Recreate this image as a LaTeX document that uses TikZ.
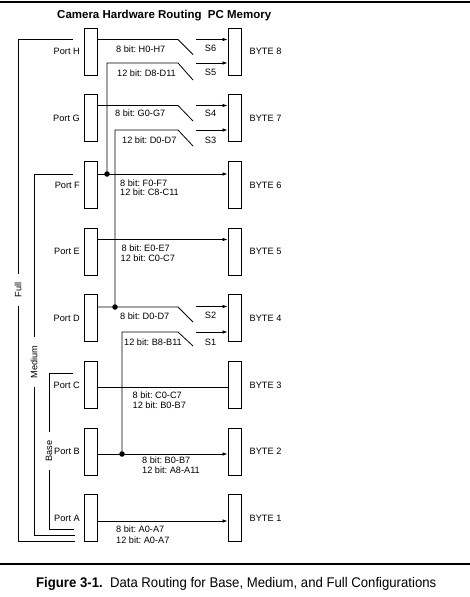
\documentclass[tikz,border=0pt]{standalone}
\usepackage{fontspec}
\setmainfont{Liberation Sans}
\usetikzlibrary{arrows.meta}
\frenchspacing
\begin{document}
\begin{tikzpicture}[x=1pt,y=-1pt,
  box/.style={draw,line width=1pt,minimum width=13pt,minimum height=47pt,inner sep=0pt},
  wire/.style={line width=0.8pt},
  arr/.style={wire,-{Latex[length=5pt,width=3.6pt]}},
  lbl/.style={font=\fontsize{9.2}{10}\selectfont,inner sep=0pt},
  wl/.style={lbl,anchor=west},
  dot/.style={circle,fill,inner sep=0pt,minimum size=5.5pt},
  grp/.style={lbl,rotate=90,inner xsep=8pt,font=\fontsize{9.2}{10}\selectfont}]
\useasboundingbox (0,0) rectangle (470,597);
\draw[line width=1.2pt] (0,2) -- (470,2);
\draw[line width=1.2pt] (0,564) -- (470,564);
\node[font=\bfseries\fontsize{11.5}{13}\selectfont,anchor=west,inner sep=0pt] (title) at (57,16) {Camera Hardware Routing\ \ PC Memory};
% port boxes
\foreach \n/\t/\y in {pH/H/51.5,pG/G/118.2,pF/F/184.9,pE/E/251.6,pD/D/318.3,pC/C/385,pB/B/451.7,pA/A/518.4}{
  \node[box] (\n) at (90.5,\y) {};
  \node[lbl,anchor=east] (\n l) at ([xshift=-3.5pt]\n.west) {Port \t};
}
\foreach \n/\t/\y in {b8/8/51.5,b7/7/118.2,b6/6/184.9,b5/5/251.6,b4/4/318.3,b3/3/385,b2/2/451.7,b1/1/518.4}{
  \node[box] (\n) at (234.5,\y) {};
  \node[lbl,anchor=west] (\n l) at ([xshift=8pt]\n.east) {BYTE \t};
}
% junction coordinates
\coordinate (jF) at (107,174);
\coordinate (jD) at (115,307);
\coordinate (jB) at (122,454);
% Port H / BYTE 8
\draw[wire] (pH.east |- 0,39.5) -- (178,39.5) -- (193,54.5);
\node[wl] at (116,49) {8 bit: H0-H7};
\draw[wire] (jF) -- (107,63) -- (178,63) -- (193,80);
\node[wl] at (117,73) {12 bit: D8-D11};
\draw[arr] (196,39.5) -- (b8.west |- 0,39.5);
\draw[arr] (196,63) -- (b8.west |- 0,63);
\node[lbl] at (210.5,48) {S6};
\node[lbl] at (210.5,72) {S5};
% Port G / BYTE 7
\draw[wire] (pG.east |- 0,105.5) -- (178,105.5) -- (193,121);
\node[wl] at (115,113) {8 bit: G0-G7};
\draw[wire] (jD) -- (115,130) -- (178,130) -- (193,146);
\node[wl] at (122,140) {12 bit: D0-D7};
\draw[arr] (196,105.5) -- (b7.west |- 0,105.5);
\draw[arr] (196,130) -- (b7.west |- 0,130);
\node[lbl] at (210.5,113) {S4};
\node[lbl] at (210.5,140) {S3};
% Port F
\draw[arr] (pF.east |- jF) -- (b6.west |- jF);
\node[dot] at (jF) {};
\node[wl] at (120,183) {8 bit: F0-F7};
\node[wl] at (120,192.5) {12 bit: C8-C11};
% Port E
\draw[arr] (pE.east |- 0,239.5) -- (b5.west |- 0,239.5);
\node[wl] at (121.5,248) {8 bit: E0-E7};
\node[wl] at (120.5,258.5) {12 bit: C0-C7};
% Port D / BYTE 4
\draw[wire] (pD.east |- jD) -- (178,307) -- (193,322);
\node[dot] at (jD) {};
\node[wl] at (120,316) {8 bit: D0-D7};
\draw[wire] (jB) -- (122,332) -- (178,332) -- (193,346);
\node[wl] at (124,342) {12 bit: B8-B11};
\draw[arr] (196,306.5) -- (b4.west |- 0,306.5);
\draw[arr] (196,332) -- (b4.west |- 0,332);
\node[lbl] at (210.5,315) {S2};
\node[lbl] at (210.5,342) {S1};
% Port C
\draw[wire] (pC.east |- 0,387) -- (b3.west |- 0,387);
\node[wl] at (132.5,395) {8 bit: C0-C7};
\node[wl] at (132.5,405) {12 bit: B0-B7};
% Port B
\draw[arr] (pB.east |- jB) -- (b2.west |- jB);
\node[dot] at (jB) {};
\node[wl] at (142,460.5) {8 bit: B0-B7};
\node[wl] at (142,470.5) {12 bit: A8-A11};
% Port A
\draw[arr] (pA.east |- 0,521) -- (b1.west |- 0,521);
\node[wl] at (116,529.5) {8 bit: A0-A7};
\node[wl] at (116,540.5) {12 bit: A0-A7};
% group brackets
\node[grp] (full) at (18,290) {Full};
\draw[wire] (73,39.5) -- (18,39.5) -- (full.east);
\draw[wire] (full.west) -- (18,541.5) -- (75,541.5);
\node[grp] (med) at (34,362) {Medium};
\draw[wire] (73,174) -- (34,174) -- (med.east);
\draw[wire] (med.west) -- (34,535) -- (75,535);
\node[grp] (base) at (49,451) {Base};
\draw[wire] (73,373) -- (49,373) -- (base.east);
\draw[wire] (base.west) -- (49,529) -- (74,529);
% caption
\node[anchor=west,inner sep=0pt] (cap) at (36,584) {\scalebox{0.94}[1]{\fontsize{14}{16}\selectfont\textbf{Figure 3-1.}\ \ Data Routing for Base, Medium, and Full Configurations}};
\end{tikzpicture}
\end{document}
